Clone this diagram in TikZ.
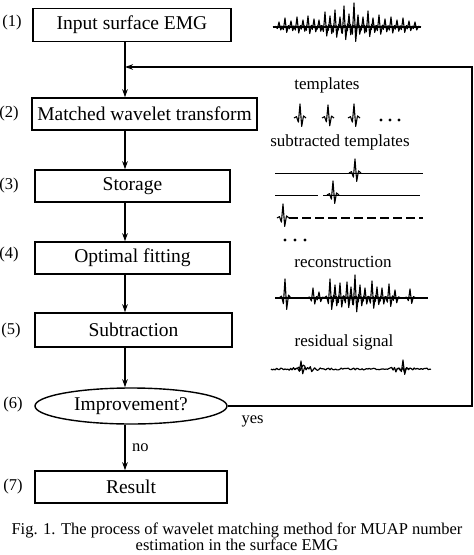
\documentclass[tikz,border=0pt]{standalone}
\usepackage{fontspec}
\setmainfont{Liberation Serif}
\usetikzlibrary{arrows.meta,shapes.geometric}
\tikzset{
  stepbox/.style={draw, line width=1.4pt, inner sep=0pt, minimum height=33pt, font=\fontsize{19.5}{21}\selectfont},
  decis/.style={draw, ellipse, line width=1.4pt, inner sep=0pt, minimum width=192pt, minimum height=36pt, font=\fontsize{19.5}{21}\selectfont},
  numlbl/.style={font=\fontsize{16.5}{18}\selectfont},
  sidelbl/.style={font=\fontsize{17}{18}\selectfont},
  conn/.style={line width=1.4pt, -{Stealth[length=8pt,width=5.5pt]}},
  wave/.style={line width=1.1pt, line join=round},
}
\newcommand\muap[3]{\draw[wave] ({#1-6},#2) -- ({#1-3.5},{#2-0.1*#3}) -- ({#1-1.6},{#2+0.3*#3}) -- (#1,{#2-#3}) -- ({#1+1.7},{#2+0.6*#3}) -- ({#1+3.5},{#2-0.15*#3}) -- ({#1+6},#2);}
\begin{document}
\begin{tikzpicture}[x=1pt,y=-1pt]
\useasboundingbox (0,0) rectangle (474,555);
% flow boxes
\node[stepbox, minimum width=198pt] (b1) at (132,25) {Input surface EMG};
\node[stepbox, minimum width=225pt, minimum height=32pt] (b2) at (144.5,114) {Matched wavelet transform};
\node[stepbox, minimum width=195pt, minimum height=32pt] (b3) at (132.5,186) {Storage};
\node[stepbox, minimum width=195pt, minimum height=32pt] (b4) at (132.5,258) {Optimal fitting};
\node[stepbox, minimum width=197pt, minimum height=34pt] (b5) at (133.5,330) {Subtraction};
\node[decis] (b6) at (131,406) {Improvement?};
\node[stepbox, minimum width=192pt, minimum height=32pt] (b7) at (131,487) {Result};
% numbers
\node[numlbl] (n1) at (12,23) {(1)};
\node[numlbl] (n2) at (9,114) {(2)};
\node[numlbl] (n3) at (9,186) {(3)};
\node[numlbl] (n4) at (9,255) {(4)};
\node[numlbl] (n5) at (11,331) {(5)};
\node[numlbl] (n6) at (13,405) {(6)};
\node[numlbl] (n7) at (13,487) {(7)};
% connectors
\coordinate (vx) at (125,0);
\coordinate (rx) at (472,0);
\coordinate (ty) at (0,67);
\draw[conn] (b1.south -| vx) -- (b2.north -| vx);
\draw[conn] (b2.south -| vx) -- (b3.north -| vx);
\draw[conn] (b3.south -| vx) -- (b4.north -| vx);
\draw[conn] (b4.south -| vx) -- (b5.north -| vx);
\draw[conn] (b5.south -| vx) -- (b6.north -| vx);
\draw[conn] (b6.south -| vx) -- node[right, numlbl, xshift=3pt] (no) {no} (b7.north -| vx);
\draw[conn] (b6.east) -- (b6.east -| rx) -- (rx |- ty) -- (vx |- ty);
\node[numlbl, anchor=west] (yes) at (238,421) {yes};
% input EMG
\draw[wave] (273,27) -- (421,27);
\foreach \p/\a in {279/5, 285/9, 291/6, 297/10, 303/7, 308/11, 314/8, 319/7, 325/15, 330/11, 335/17, 340/10, 344/21, 349/13, 354/24, 358/12, 363/10, 368/16, 373/9, 379/12, 385/8, 391/10, 397/7, 403/9, 409/6, 415/5}{
  \muap{\p}{27}{\a}
}
% templates
\node[sidelbl] (tl) at (327,85) {templates};
\muap{300}{118}{14}
\muap{328}{118}{13}
\muap{354}{118}{14}
\fill (381,120) circle (1.6) (390,120) circle (1.6) (399,120) circle (1.6);
% subtracted templates
\node[sidelbl] (sl) at (340,142) {subtracted templates};
\draw[wave, line width=0.8pt] (275,173) -- (423,173);
\muap{355}{173}{14}
\draw[wave, line width=0.8pt] (275,195) -- (318,195) (323,195) -- (420,195);
\muap{333}{195}{14}
\muap{283}{218}{14}
\draw[wave, line width=1.2pt, dash pattern=on 9pt off 4pt] (289,218) -- (423,218);
\fill (285,240) circle (1.6) (295,240) circle (1.6) (305,240) circle (1.6);
% reconstruction
\node[sidelbl] (rl) at (343,262) {reconstruction};
\draw[wave] (275,298) -- (428,298);
\foreach \p/\a in {285/19, 313/10, 319/6, 330/19, 335/13, 340/15, 347/16, 351/11, 355/23, 360/13, 365/10, 372/17, 377/11, 382/10, 389/14, 395/8, 410/9}{
  \muap{\p}{298}{\a}
}
% residual
\node[sidelbl] (ql) at (344,342) {residual signal};
\pgfmathsetseed{5}
\draw[wave, line width=1.2pt] plot[domain=271:431, samples=115] (\x, {369 - (1+3.5*exp(-((\x-304)/9)^2)+3*exp(-((\x-400)/7)^2))*rand});
\muap{301}{369}{8}
\muap{403}{369}{9}
% caption
\node[font=\fontsize{16.5}{16}\selectfont, align=center, inner sep=0pt] (cap) at (237,537) {Fig. 1. The process of wavelet matching method for MUAP number\\estimation in the surface EMG};
\end{tikzpicture}
\end{document}
